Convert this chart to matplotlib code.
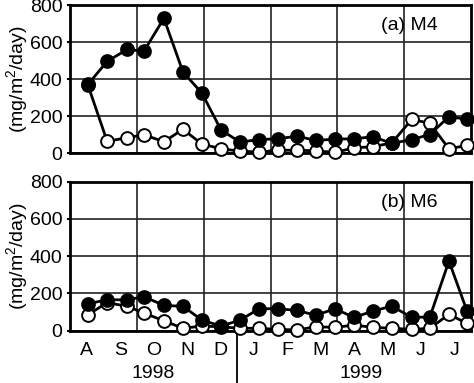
import matplotlib
matplotlib.use('Agg')
import matplotlib.pyplot as plt
import matplotlib.transforms as mtransforms

plt.rcParams['font.family'] = ['Liberation Sans', 'DejaVu Sans']
plt.rcParams['mathtext.fontset'] = 'custom'
plt.rcParams['mathtext.rm'] = 'Liberation Sans'
plt.rcParams['mathtext.default'] = 'regular'

# sampling times, in months since 1 Aug 1998
t = [0.54, 1.11, 1.71, 2.21, 2.81, 3.38, 3.95, 4.52, 5.09, 5.66, 6.22,
     6.79, 7.36, 7.93, 8.50, 9.07, 9.63, 10.23, 10.77, 11.34, 11.88]

m4_filled = [372, 495, 560, 550, 728, 438, 323, 124, 59, 73, 77,
             91, 68, 75, 77, 88, 52, 73, 100, 197, 182]
m4_open = [365, 64, 82, 99, 61, 128, 48, 23, 10, 5, 15,
           15, 12, 3, 28, 34, 55, 182, 160, 23, 41]

m6_filled = [144, 165, 165, 182, 135, 130, 56, 24, 56, 117, 117,
             108, 82, 117, 70, 105, 131, 70, 73, 373, 105]
m6_open = [85, 150, 130, 94, 52, 12, 24, 20, 12, 12, 6,
           3, 20, 17, 29, 17, 12, 6, 12, 87, 38]

month_labels = ['A', 'S', 'O', 'N', 'D', 'J', 'F', 'M', 'A', 'M', 'J', 'J']
year_labels = ['1998', '1999']
panel_labels = ['(a) M4', '(b) M6']

FS = 14


def draw_panel(ax, filled, opened, label):
    ax.plot(t, opened, '-o', color='black', lw=2.0, ms=9.2,
            mfc='white', mec='black', mew=1.4, zorder=3, clip_on=False)
    ax.plot(t, filled, '-o', color='black', lw=2.0, ms=9.2,
            mfc='black', mec='black', mew=1.4, zorder=4, clip_on=False)
    ax.set_xlim(0, 12)
    ax.set_ylim(0, 800)
    ax.set_yticks([0, 200, 400, 600, 800])
    ax.yaxis.grid(True, color='#222222', lw=1.2)
    for xm in [2, 4, 6, 8, 10]:
        ax.axvline(xm, color='#222222', lw=1.2, zorder=1)
    ax.set_axisbelow(True)
    for s in ax.spines.values():
        s.set_linewidth(2.0)
    ax.tick_params(axis='y', length=2.5, width=1.5, pad=3, labelsize=FS)
    ax.tick_params(axis='x', length=0)
    ax.set_ylabel('(mg/m$^{2}$/day)', fontsize=FS)
    ax.yaxis.set_label_coords(-0.10, 0.5)
    ax.text(11.0, 690, label, ha='right', va='center', fontsize=FS)


fig = plt.figure(figsize=(4.74, 3.83), dpi=100)
ax1 = fig.add_axes([0.1477, 0.6005, 0.846, 0.3864])
ax2 = fig.add_axes([0.1477, 0.137, 0.846, 0.389])

draw_panel(ax1, m4_filled, m4_open, panel_labels[0])
draw_panel(ax2, m6_filled, m6_open, panel_labels[1])

ax1.set_xticks([])
ax2.set_xticks([i + 0.5 for i in range(12)])
ax2.set_xticklabels(month_labels, fontsize=FS)
ax2.tick_params(axis='x', pad=8)

trans = mtransforms.blended_transform_factory(ax2.transData, ax2.transAxes)
ax2.plot([5, 5], [0, -0.4], color='black', lw=1.3, transform=trans, clip_on=False)
ax2.text(2.5, -0.29, year_labels[0], ha='center', va='center', fontsize=FS, transform=trans)
ax2.text(8.7, -0.29, year_labels[1], ha='center', va='center', fontsize=FS, transform=trans)

fig.savefig('out.png', dpi=100)
